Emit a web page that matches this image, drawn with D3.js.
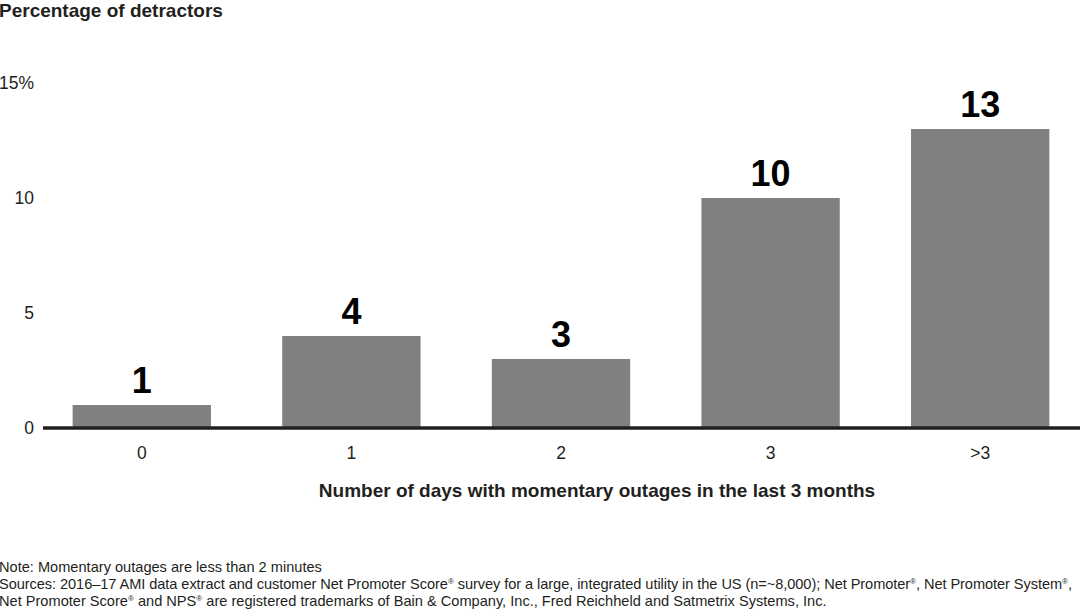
<!DOCTYPE html>
<html>
<head>
<meta charset="utf-8">
<script src="https://cdn.jsdelivr.net/npm/d3@7"></script>
<style>
  body { margin: 0; background: #fff; }
  svg { display: block; font-family: "Liberation Sans", Arial, sans-serif; }
</style>
</head>
<body>
<div id="viz-wrapper"></div>
<script>
  // chart data
  var categories = ["0", "1", "2", "3", ">3"];
  var detractors = [1, 4, 3, 10, 13];
  var yTicks = [0, 5, 10, 15];

  var width = 1080,
      height = 612;

  var viz = d3.select("#viz-wrapper")
                .append('svg')
                .attr('width', width)
                .attr('height', height);

  // scales
  var x = d3.scaleBand()
      .domain(categories)
      .range([37, 1085])
      .paddingInner(0.34)
      .paddingOuter(0.17);

  var y = d3.scaleLinear()
      .domain([0, 15])
      .range([428, 83]);

  // y tick labels, no axis line
  viz.append('g').selectAll('text')
      .data(yTicks)
      .enter()
    .append('text')
      .attr('x', 34)
      .attr('y', function(d) { return y(d) + 6; })
      .attr('text-anchor', 'end')
      .attr('font-size', 17.5)
      .attr('fill', '#231f20')
      .text(function(d) { return d === 15 ? d + "%" : d; });

  // bars
  viz.append('g').selectAll('rect')
      .data(detractors)
      .enter()
    .append('rect')
      .attr('x', function(d, i) { return x(categories[i]); })
      .attr('y', function(d) { return y(d); })
      .attr('width', x.bandwidth())
      .attr('height', function(d) { return y(0) - y(d); })
      .attr('fill', '#808080');

  // value labels above the bars
  viz.append('g').selectAll('text')
      .data(detractors)
      .enter()
    .append('text')
      .attr('x', function(d, i) { return x(categories[i]) + x.bandwidth() / 2; })
      .attr('y', function(d) { return y(d) - 12; })
      .attr('text-anchor', 'middle')
      .attr('font-size', 36)
      .attr('font-weight', 'bold')
      .attr('fill', '#000')
      .text(function(d) { return d; });

  // baseline
  viz.append('line')
      .attr('x1', 43)
      .attr('x2', width)
      .attr('y1', y(0))
      .attr('y2', y(0))
      .attr('stroke', '#231f20')
      .attr('stroke-width', 3.5);

  // x tick labels
  viz.append('g').selectAll('text')
      .data(categories)
      .enter()
    .append('text')
      .attr('x', function(d) { return x(d) + x.bandwidth() / 2; })
      .attr('y', 459)
      .attr('text-anchor', 'middle')
      .attr('font-size', 17.5)
      .attr('fill', '#231f20')
      .text(function(d) { return d; });

  // axis title
  viz.append('text')
      .attr('x', 597)
      .attr('y', 497)
      .attr('text-anchor', 'middle')
      .attr('font-size', 19)
      .attr('font-weight', 'bold')
      .attr('fill', '#231f20')
      .text("Number of days with momentary outages in the last 3 months");

  // y title
  viz.append('text')
      .attr('x', -1)
      .attr('y', 17)
      .attr('font-size', 19)
      .attr('font-weight', 'bold')
      .attr('fill', '#231f20')
      .text("Percentage of detractors");

  // notes
  var notes = viz.append('g')
      .attr('font-size', 14.6)
      .attr('fill', '#231f20');

  notes.append('text').attr('x', -1).attr('y', 572)
      .text("Note: Momentary outages are less than 2 minutes");

  var l2 = notes.append('text').attr('x', -1).attr('y', 589)
      .attr('letter-spacing', -0.07);
  l2.append('tspan').text("Sources: 2016\u201317 AMI data extract and customer Net Promoter Score");
  l2.append('tspan').attr('font-size', 8).attr('dy', -5).text("\u00ae");
  l2.append('tspan').attr('dy', 5).text(" survey for a large, integrated utility in the US (n=~8,000); Net Promoter");
  l2.append('tspan').attr('font-size', 8).attr('dy', -5).text("\u00ae");
  l2.append('tspan').attr('dy', 5).text(", Net Promoter System");
  l2.append('tspan').attr('font-size', 8).attr('dy', -5).text("\u00ae");
  l2.append('tspan').attr('dy', 5).text(",");

  var l3 = notes.append('text').attr('x', -1).attr('y', 606);
  l3.append('tspan').text("Net Promoter Score");
  l3.append('tspan').attr('font-size', 8).attr('dy', -5).text("\u00ae");
  l3.append('tspan').attr('dy', 5).text(" and NPS");
  l3.append('tspan').attr('font-size', 8).attr('dy', -5).text("\u00ae");
  l3.append('tspan').attr('dy', 5).text(" are registered trademarks of Bain & Company, Inc., Fred Reichheld and Satmetrix Systems, Inc.");
</script>
</body>
</html>
